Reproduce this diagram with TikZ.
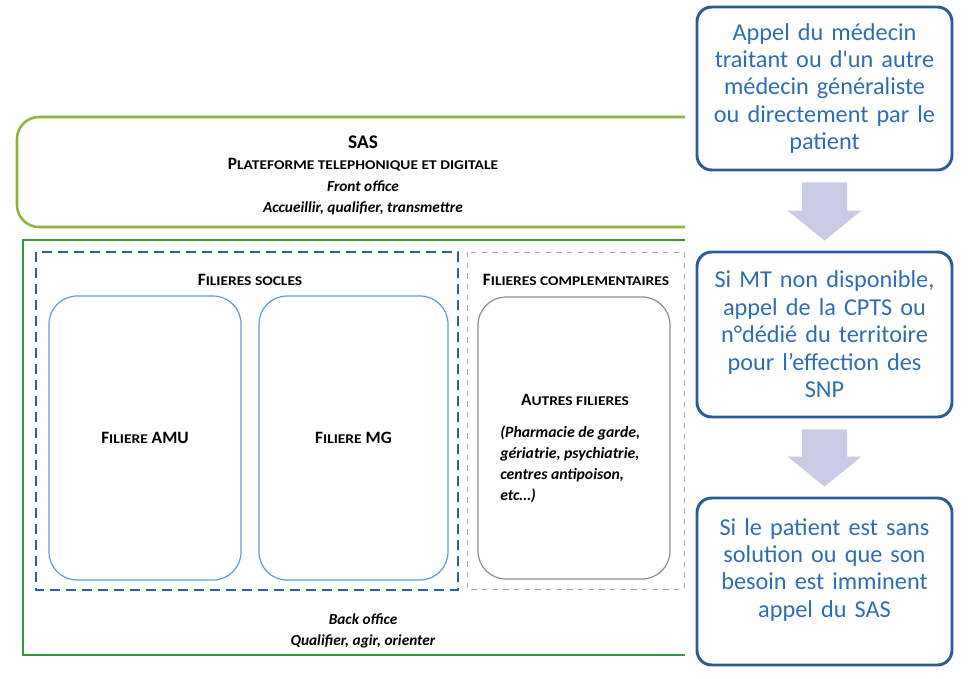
\documentclass[tikz,border=0pt]{standalone}
\usepackage{fontspec}
\setmainfont{Carlito}[Ligatures=TeXOff]
\usepackage{tikz}
\usetikzlibrary{calc}

\definecolor{sasgreen}{HTML}{8DB43C}
\definecolor{backgreen}{HTML}{3B9442}
\definecolor{socleblue}{HTML}{2D5FA5}
\definecolor{filblue}{HTML}{5B9BD5}
\definecolor{compgray}{HTML}{A6A6A6}
\definecolor{autregray}{HTML}{8C8C8C}
\definecolor{etapeblue}{HTML}{2C5C96}
\definecolor{etapetext}{HTML}{2E6DB2}
\definecolor{flechegray}{HTML}{C8CCE4}

% petites capitales simulees
\newcommand{\petitcap}[1]{{\fontsize{10pt}{12pt}\selectfont\addfontfeature{FakeStretch=1.16}#1}}

\begin{document}
\begin{tikzpicture}[x=0.75pt,y=0.75pt,yscale=-1,xscale=1,
  titre/.style={anchor=base, inner sep=0pt, font=\fontsize{13}{15.75}\selectfont\bfseries},
  sousligne/.style={anchor=base, inner sep=0pt, font=\fontsize{11.5}{15.75}\selectfont\bfseries\itshape},
  filiere/.style={draw=filblue, line width=0.9pt, rounded corners=21pt, inner sep=0pt,
    font=\fontsize{13}{15.75}\selectfont\bfseries},
  etape/.style={draw=etapeblue, line width=2.2pt, rounded corners=11pt, align=center,
    minimum width=191.25pt, text width=190pt, inner sep=0pt, text=etapetext,
    font=\fontsize{18.2}{20.6}\selectfont},
  fleche/.style={fill=flechegray}]
\useasboundingbox (0,0) rectangle (980,678);

% SAS front office
\draw [sasgreen, line width=1.9pt, rounded corners=16.5pt] (685,117) -- (17,117) -- (17,227) -- (685,227) ;
\node [titre] (sastitre) at (363,148) {\fontsize{14.5}{16}\selectfont SAS};
\node [titre] (plateforme) at (363,169) {P\petitcap{LATEFORME TELEPHONIQUE ET DIGITALE}};
\node [sousligne] (front) at (363,191) {Front office};
\node [sousligne] (accueil) at (363,212) {Accueillir, qualifier, transmettre};

% back office
\draw [backgreen, line width=1.9pt] (685,240) -- (23,240) -- (23,655) -- (685,655) ;
\draw [socleblue, line width=1.9pt, dash pattern=on 7.5pt off 4.5pt] (36,252) rectangle (458,590) ;
\draw [compgray, line width=0.75pt, dash pattern=on 4pt off 4pt] (467,252) rectangle (684,589) ;

\node [titre] (socles) at (250,285) {F\petitcap{ILIERES SOCLES}};
\node [titre] (complementaires) at (576,285) {F\petitcap{ILIERES COMPLEMENTAIRES}};

\node [filiere, minimum width=144pt, minimum height=213pt] (amu) at (145,438) {F\petitcap{ILIERE} AMU};
\node [filiere, minimum width=141.75pt, minimum height=213pt] (mg) at (353.5,438) {F\petitcap{ILIERE} MG};
\node [filiere, draw=autregray, minimum width=144pt, minimum height=211.5pt] (autres) at (574,438) {};

\node [titre] (autrestitre) at (575,405) {A\petitcap{UTRES FILIERES}};
\node [anchor=north west, inner sep=0pt, align=left, font=\fontsize{11.8}{15.75}\selectfont\bfseries\itshape] (liste) at (500,426)
  {(Pharmacie de garde,\\ gériatrie, psychiatrie,\\ centres antipoison,\\ etc…)};

\node [sousligne] (back) at (363,624) {Back office};
\node [sousligne] (qualifier) at (363,645) {Qualifier, agir, orienter};

% parcours du patient
\node [etape, minimum height=122.25pt] (appel) at (824.5,88.5)
  {Appel du médecin\\ traitant ou d'un autre\\ médecin généraliste\\ ou directement par le\\ patient};
\node [etape, minimum height=123.75pt] (cpts) at (824.5,334.5)
  {Si MT non disponible,\\ appel de la CPTS ou\\ n°dédié du territoire\\ pour l’effection des\\ SNP};
\node [etape, minimum height=125.25pt] (solution) at (824.5,581.5)
  {Si le patient est sans\\ solution ou que son\\ besoin est imminent\\ appel du SAS\\ \mbox{}};

\foreach \haut/\bas in {appel/cpts, cpts/solution}
  \fill [fleche] ($(\haut.south)+(-22.5,11)$) -- ($(\haut.south)+(22.5,11)$) -- ($(\bas.north)+(22.5,-40)$)
    -- ($(\bas.north)+(37,-40)$) -- ($(\bas.north)+(0,-10)$) -- ($(\bas.north)+(-37,-40)$)
    -- ($(\bas.north)+(-22.5,-40)$) -- cycle ;

\end{tikzpicture}
\end{document}
